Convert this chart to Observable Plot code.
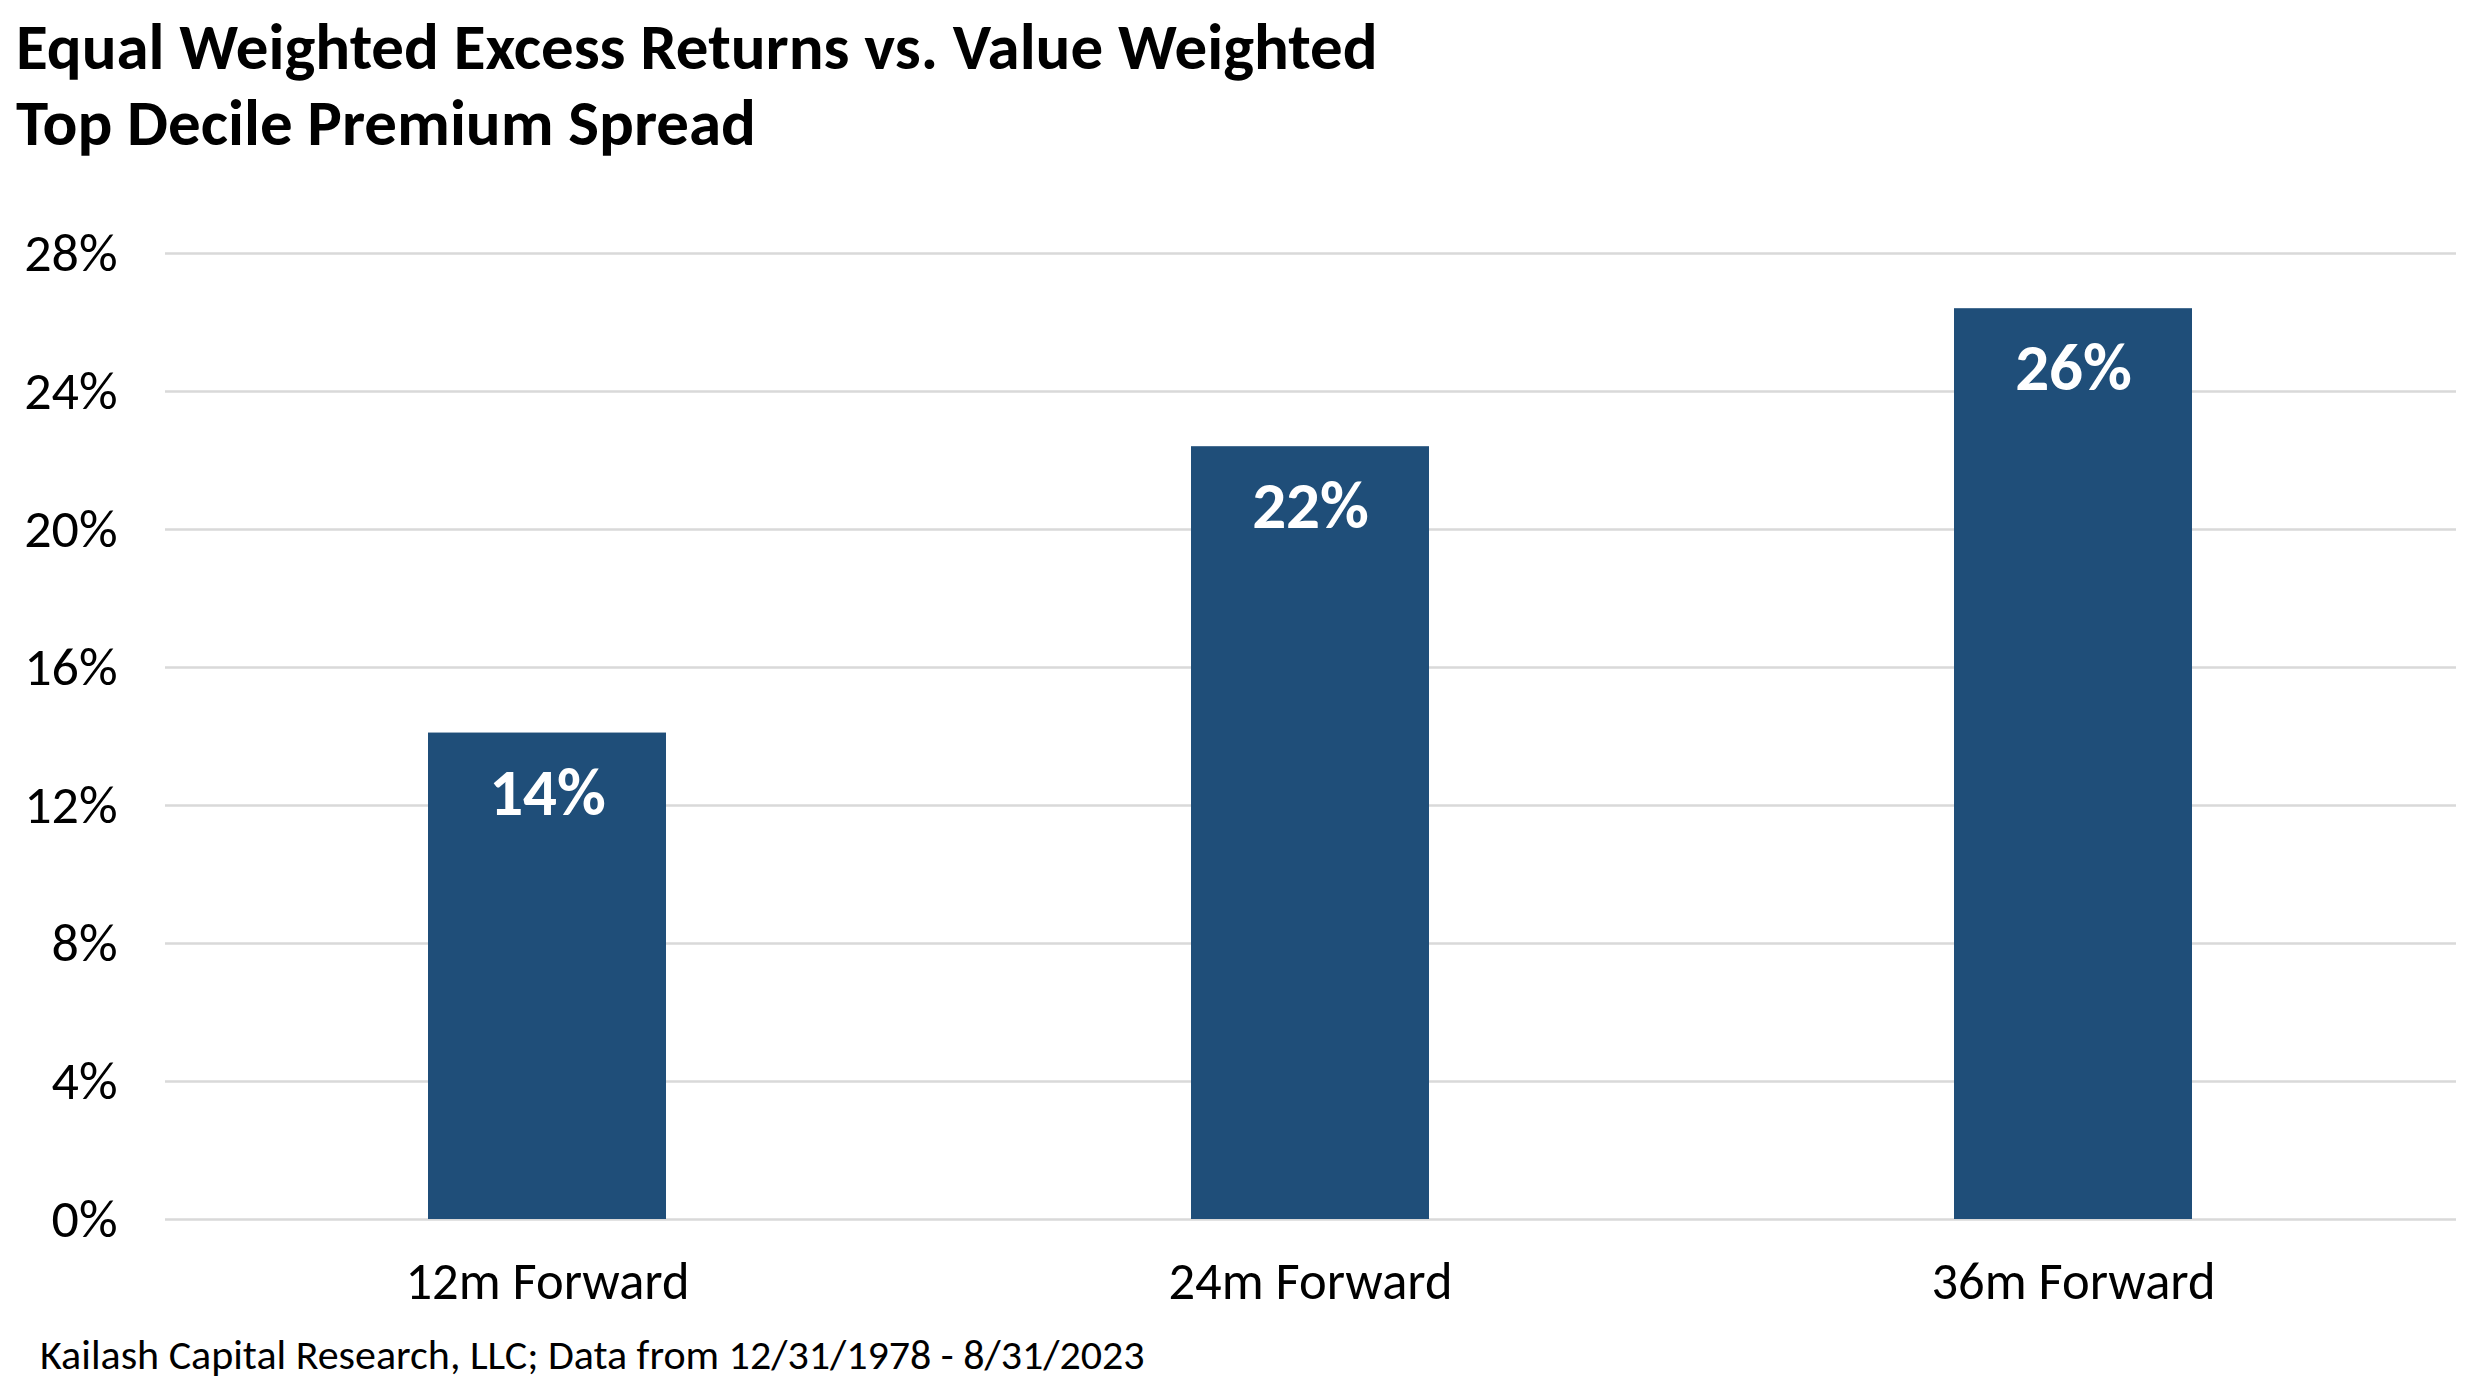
<!DOCTYPE html>
<html>
<head>
<meta charset="utf-8">
<script src="https://cdn.jsdelivr.net/npm/d3@7"></script>
<script src="https://cdn.jsdelivr.net/npm/@observablehq/plot@0.6"></script>
<style>
  html, body { margin: 0; padding: 0; background: #fff; }
  body { width: 2475px; height: 1393px; position: relative; overflow: hidden;
         font-family: Carlito, "Open Sans", sans-serif; }
  #title { position: absolute; left: 16px; top: 9px; font-weight: bold; font-size: 65px;
           line-height: 76px; color: #000; white-space: nowrap; }
  #chart { position: absolute; left: 0; top: 200px; }
  #caption { position: absolute; left: 40px; top: 1330px; font-size: 42px; line-height: 50px;
             color: #000; white-space: nowrap; }
</style>
</head>
<body>
<div id="title">Equal Weighted Excess Returns vs. Value Weighted<br>Top Decile Premium Spread</div>
<div id="chart"></div>
<div id="caption">Kailash Capital Research, LLC; Data from 12/31/1978 - 8/31/2023</div>
<script>
const categories = ["12m Forward", "24m Forward", "36m Forward"];
const values = [14.1, 22.4, 26.4];
const yTicks = [0, 4, 8, 12, 16, 20, 24, 28];

const data = categories.map((c, i) => ({category: c, value: values[i]}));
const FONT = 'Carlito, "Open Sans", sans-serif';

const plot = Plot.plot({
  width: 2475,
  height: 1130,
  marginTop: 53,
  marginBottom: 111,
  marginLeft: 165,
  marginRight: 19,
  style: {fontFamily: FONT, fontSize: "53px", color: "#000", background: "#fff"},
  x: {domain: categories, paddingInner: 0.688, paddingOuter: 0.344, label: null},
  y: {domain: [0, 28], label: null},
  marks: [
    Plot.ruleY(yTicks, {stroke: "#d9d9d9", strokeWidth: 2.5}),
    Plot.barY(data, {x: "category", y: "value", fill: "#1f4e79"}),
    Plot.text(data, {x: "category", y: "value", text: d => Math.round(d.value) + "%",
      dy: 60, fill: "#fff", fontWeight: "bold", fontSize: 67, fontFamily: FONT}),
    Plot.axisY({ticks: yTicks, tickFormat: d => d + "%", tickSize: 0, tickPadding: 48,
      fontSize: 54, label: null}),
    Plot.axisX({tickSize: 0, tickPadding: 42, fontSize: 52.5, label: null})
  ]
});
document.getElementById("chart").appendChild(plot);
</script>
</body>
</html>
